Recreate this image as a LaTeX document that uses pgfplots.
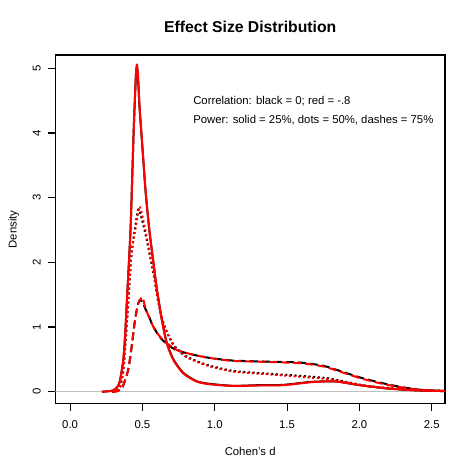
\documentclass[border=0pt]{standalone}
\usepackage{pgfplots}
\pgfplotsset{compat=1.18}
\usepackage{fontspec}
\setmainfont{Liberation Sans}
\begin{document}
\begin{tikzpicture}
\path[use as bounding box] (-41.5pt,-52.5pt) rectangle (314.05pt,303pt);
\begin{axis}[
  at={(0,0)}, anchor=south west,
  scale only axis,
  width=292.3pt, height=261.75pt,
  xmin=-0.102, xmax=2.592, ymin=-0.19, ymax=5.206,
  axis line style={line width=0.8pt},
  xtick={0,0.5,1,1.5,2,2.5},
  ytick={0,1,2,3,4,5},
  xticklabel style={/pgf/number format/.cd, fixed, fixed zerofill, precision=1},
  tick align=outside,
  major tick length=5.25pt,
  tick style={line width=0.8pt, black},
  xtick pos=bottom, ytick pos=left,
  /pgf/number format/assume math mode=true,
  ticklabel style={font=\fontsize{8.5}{10}\selectfont},
  yticklabel style={rotate=90},
  xticklabel shift=3.5pt,
  yticklabel shift=2.25pt,
  xlabel={Cohen's d}, ylabel={Density},
  label style={font=\fontsize{8.5}{10}\selectfont},
  xlabel style={at={(axis description cs:0.5,0)}, anchor=base, yshift=-38.8pt},
  ylabel style={at={(axis description cs:0,0.5)}, anchor=base, rotate=0, yshift=29pt},
  title={\textbf{Effect Size Distribution}},
  title style={font=\fontsize{11.8}{13}\selectfont, at={(axis description cs:0.5,1)}, anchor=base, yshift=10.5pt},
  clip=true,
  every axis plot/.append style={line join=round},
]
\addplot[gray!50, line width=0.5pt] coordinates {(-0.2,0) (2.7,0)};
% black solid
\addplot[black, line width=1.5pt, smooth, tension=0.4] coordinates {
(0.22,0) (0.26,0.005) (0.30,0.02) (0.33,0.08) (0.346,0.18) (0.368,0.49) (0.380,0.85) (0.392,1.37) (0.410,2.14) (0.420,2.63) (0.438,3.92) (0.446,4.40) (0.455,4.88) (0.462,5.03) (0.469,4.88) (0.480,4.40) (0.496,3.90) (0.522,3.1) (0.548,2.5) (0.576,2.0) (0.599,1.6) (0.634,1.12) (0.668,0.76) (0.714,0.50) (0.783,0.29) (0.876,0.16) (0.968,0.12) (1.129,0.09) (1.30,0.10) (1.474,0.105) (1.659,0.15) (1.80,0.16) (1.866,0.15) (2.004,0.10) (2.189,0.05) (2.396,0.02) (2.6,0.008)};
% black dotted
\addplot[black, line width=1.5pt, dash pattern=on 1.5pt off 2pt, smooth, tension=0.4] coordinates {
(0.29,0) (0.311,0.01) (0.346,0.08) (0.369,0.34) (0.386,0.85) (0.402,1.37) (0.425,2.14) (0.455,2.62) (0.472,2.82) (0.492,2.70) (0.52,2.45) (0.55,2.12) (0.58,1.78) (0.605,1.44) (0.634,1.15) (0.668,0.93) (0.72,0.71) (0.80,0.55) (0.90,0.45) (0.968,0.40) (1.129,0.32) (1.359,0.28) (1.590,0.245) (1.774,0.21) (1.889,0.16) (2.05,0.09) (2.234,0.05) (2.419,0.02) (2.6,0.01)};
% black dashed
\addplot[black, line width=1.5pt, dash pattern=on 6pt off 3pt, smooth, tension=0.4] coordinates {
(0.29,0) (0.33,0.01) (0.364,0.08) (0.402,0.34) (0.426,0.70) (0.449,1.11) (0.470,1.36) (0.488,1.42) (0.505,1.36) (0.525,1.26) (0.545,1.17) (0.565,1.05) (0.590,0.95) (0.622,0.84) (0.668,0.74) (0.737,0.64) (0.853,0.57) (0.968,0.52) (1.129,0.48) (1.359,0.465) (1.590,0.45) (1.751,0.40) (1.866,0.32) (2.004,0.22) (2.142,0.14) (2.281,0.075) (2.419,0.03) (2.6,0.01)};
% red solid
\addplot[red, line width=1.5pt, smooth, tension=0.4] coordinates {
(0.22,0) (0.26,0.005) (0.30,0.02) (0.33,0.08) (0.346,0.18) (0.368,0.49) (0.380,0.85) (0.392,1.37) (0.410,2.14) (0.420,2.63) (0.438,3.92) (0.446,4.42) (0.455,4.90) (0.462,5.06) (0.469,4.90) (0.480,4.42) (0.496,3.92) (0.522,3.1) (0.548,2.5) (0.576,2.0) (0.599,1.6) (0.634,1.11) (0.668,0.75) (0.714,0.49) (0.783,0.28) (0.876,0.155) (0.968,0.114) (1.129,0.088) (1.30,0.095) (1.474,0.10) (1.659,0.145) (1.80,0.16) (1.866,0.15) (2.004,0.10) (2.189,0.05) (2.396,0.02) (2.6,0.008)};
% red dotted
\addplot[red, line width=1.5pt, dash pattern=on 1.5pt off 2pt, smooth, tension=0.4] coordinates {
(0.29,0) (0.311,0.01) (0.346,0.08) (0.369,0.34) (0.386,0.85) (0.402,1.37) (0.425,2.14) (0.461,2.63) (0.479,2.86) (0.497,2.75) (0.52,2.5) (0.55,2.15) (0.58,1.8) (0.605,1.45) (0.634,1.15) (0.668,0.92) (0.72,0.70) (0.80,0.54) (0.90,0.44) (0.968,0.39) (1.129,0.31) (1.359,0.27) (1.590,0.23) (1.774,0.196) (1.889,0.155) (2.05,0.088) (2.234,0.05) (2.419,0.02) (2.6,0.01)};
% red dashed
\addplot[red, line width=1.5pt, dash pattern=on 6pt off 3pt, smooth, tension=0.4] coordinates {
(0.29,0) (0.33,0.01) (0.364,0.08) (0.402,0.34) (0.426,0.70) (0.449,1.11) (0.472,1.37) (0.490,1.44) (0.502,1.46) (0.52,1.30) (0.553,1.11) (0.588,0.95) (0.622,0.85) (0.668,0.75) (0.737,0.645) (0.853,0.57) (0.968,0.52) (1.129,0.475) (1.359,0.46) (1.590,0.44) (1.751,0.39) (1.866,0.31) (2.004,0.21) (2.142,0.13) (2.281,0.07) (2.419,0.03) (2.6,0.01)};
\node[anchor=west, inner sep=0pt, font=\fontsize{8.5}{10}\selectfont] at (axis cs:0.85,4.5) {Correlation: black = 0; red = -.8};
\node[anchor=west, inner sep=0pt, font=\fontsize{8.5}{10}\selectfont] at (axis cs:0.85,4.2) {Power: solid = 25\%, dots = 50\%, dashes = 75\%};
\end{axis}
\end{tikzpicture}
\end{document}
